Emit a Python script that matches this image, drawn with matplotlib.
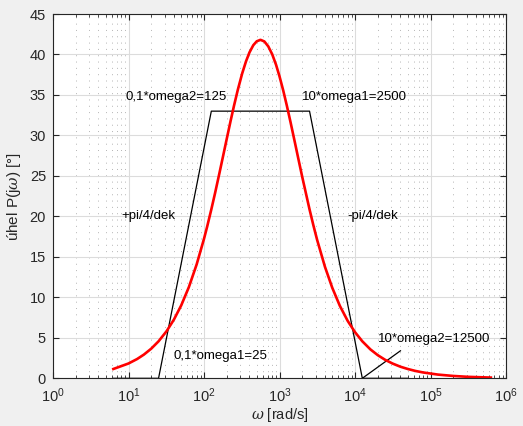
import matplotlib
matplotlib.use("Agg")
import matplotlib.pyplot as plt
from matplotlib.ticker import LogLocator, NullFormatter, MultipleLocator

plt.rcParams['font.family'] = ['Liberation Sans', 'DejaVu Sans']
plt.rcParams['mathtext.fontset'] = 'custom'
plt.rcParams['mathtext.it'] = 'DejaVu Serif:italic'

# red curve: phase values
w_curve = [6.3, 10, 13, 16, 20, 25, 32, 40, 50, 63, 80, 100, 110, 125, 140, 160,
           180, 200, 225, 250, 280, 320, 360, 400, 450, 500, 560, 630, 710, 800,
           900, 1000, 1120, 1250, 1400, 1600, 1800, 2000, 2500, 2800, 3150, 4000,
           5000, 6300, 8000, 10000, 12500, 16000, 20000, 25000, 31500, 40000,
           50000, 63000, 80000, 125000, 200000, 315000, 630000]
phase_curve = [1.15, 1.83, 2.38, 2.93, 3.66, 4.57, 5.83, 7.26, 9.02, 11.26, 14.08,
               17.23, 18.72, 20.86, 22.86, 25.33, 27.56, 29.57, 31.79, 33.69, 35.61,
               37.64, 39.15, 40.25, 41.15, 41.63, 41.81, 41.61, 41.00, 40.03, 38.73,
               37.30, 35.56, 33.69, 31.64, 29.12, 26.87, 24.88, 20.86, 18.96, 17.10,
               13.77, 11.18, 8.95, 7.09, 5.70, 4.57, 3.57, 2.86, 2.29, 1.82, 1.43,
               1.15, 0.91, 0.72, 0.46, 0.29, 0.18, 0.09]

# black asymptote
w_asym = [6.3, 25, 125, 2500, 12500, 50000]
phase_asym = [0, 0, 33, 33, 0, 0]

# annotation pointer line
w_ptr = [12500, 40000]
phase_ptr = [0, 3.4]

labels = ["0,1*omega2=125", "10*omega1=2500", "+pi/4/dek", "-pi/4/dek",
          "0,1*omega1=25", "10*omega2=12500"]
label_x = [9, 2000, 8, 8000, 40, 20000]
label_y = [34.75, 34.75, 20, 20, 2.75, 4.8]

fig = plt.figure(figsize=(5.23, 4.26), dpi=100, facecolor='#f0f0f0')
ax = fig.add_axes([53/523, 1-378.3/426, (506-53)/523, (378.3-14)/426])
ax.set_facecolor('white')

ax.plot(w_asym, phase_asym, color='black', lw=0.9)
ax.plot(w_ptr, phase_ptr, color='black', lw=0.9)
ax.plot(w_curve, phase_curve, color='#ff0000', lw=1.9)

for t, x, y in zip(labels, label_x, label_y):
    ax.text(x, y, t, ha='left', va='center', fontsize=9.5, color='black')

ax.set_xscale('log')
ax.set_xlim(1, 1e6)
ax.set_ylim(0, 45)
ax.yaxis.set_major_locator(MultipleLocator(5))
ax.xaxis.set_major_locator(LogLocator(base=10, numticks=10))
ax.xaxis.set_minor_locator(LogLocator(base=10, subs=range(2, 10), numticks=100))
ax.xaxis.set_minor_formatter(NullFormatter())

ax.grid(True, which='major', color='#dcdcdc', lw=0.8)
ax.grid(True, which='minor', axis='x', color='#b4b4b4', lw=0.7,
        linestyle=(0, (1, 5.5)))
ax.set_axisbelow(True)

ax.tick_params(which='both', direction='in', top=True, right=True, colors='#262626',
               labelsize=10.5)
ax.tick_params(axis='x', which='major', pad=6)
ax.tick_params(axis='y', which='major', pad=5)
ax.tick_params(which='major', length=4)
ax.tick_params(which='minor', length=2)
for s in ax.spines.values():
    s.set_color('#262626')
    s.set_linewidth(0.8)

ax.set_xlabel(r'$\omega$ [rad/s]', fontsize=10.5, color='#262626')
ax.set_ylabel(r'úhel P(j$\omega$) [°]', fontsize=11, color='#262626')
ax.xaxis.set_label_coords(0.5, -0.077)
ax.yaxis.set_label_coords(-0.066, 0.5)

fig.savefig('out.png', dpi=100, facecolor=fig.get_facecolor())
